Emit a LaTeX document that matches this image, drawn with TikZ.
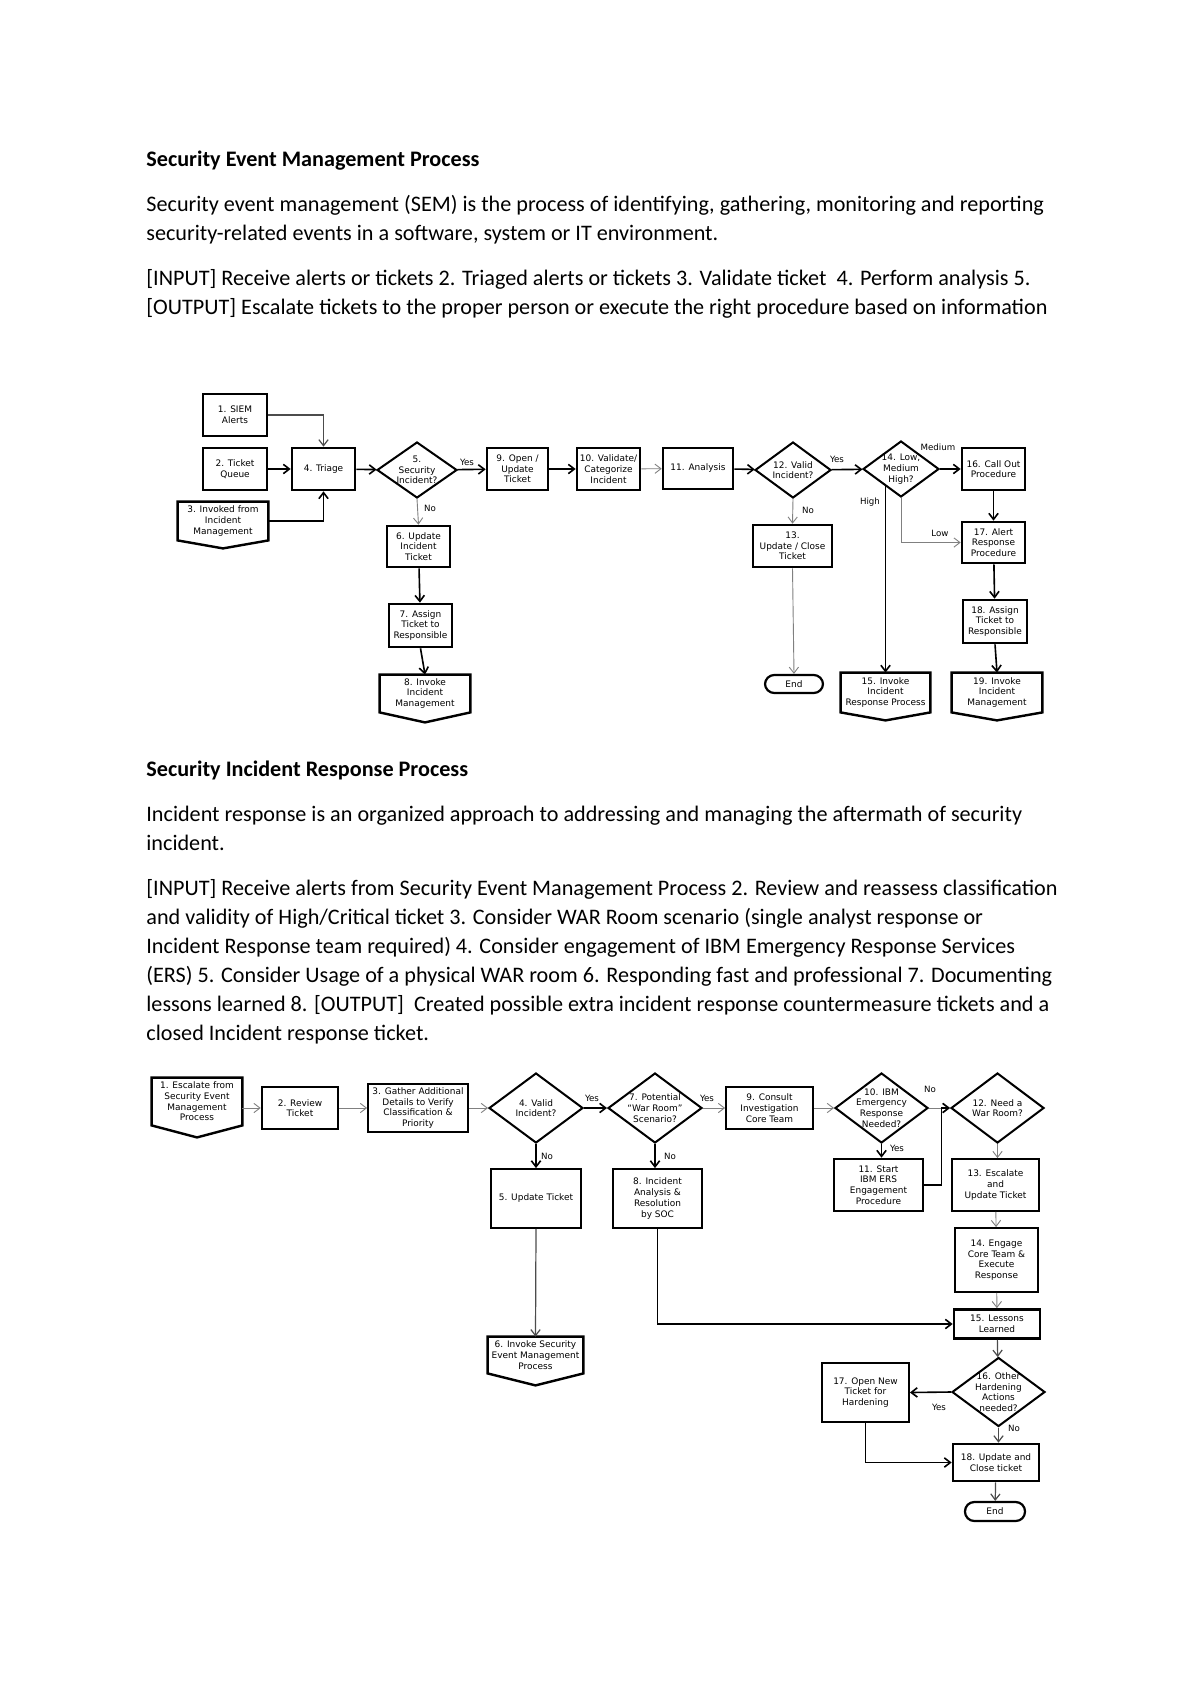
\documentclass[tikz,border=0pt]{standalone}
\usepackage{fontspec}
\setmainfont{Carlito}
\newfontfamily\dgfont{DejaVu Sans}
\usetikzlibrary{arrows.meta,shapes.geometric,calc}
\newdimen\px \px=0.4961pt
\newcommand\dgsz{\dgfont\fontsize{4.45}{5.3}\selectfont}
\newcommand\lbsz{\dgfont\fontsize{4.3}{4.8}\selectfont}
\newcommand\bodysz{\fontsize{11}{13}\selectfont}
\tikzset{
  sz/.style 2 args={minimum width=#1\px, minimum height=#2\px},
  boxk/.style={draw, rectangle, line width=1.3pt, align=center, inner sep=0pt, font=\dgsz},
  boxm/.style={boxk, line width=0.9pt},
  dia/.style={draw, diamond, line width=1pt, inner sep=0pt},
  dtxt/.style={font=\dgsz, align=center, inner sep=0pt},
  term/.style={draw, rectangle, rounded corners=4.6pt, line width=1.1pt, font=\dgsz, inner sep=0pt},
  offbox/.style={rectangle, align=center, inner sep=0pt, font=\dgsz},
  offline/.style={line width=1.2pt, line join=miter},
  tip/.style={-{Straight Barb[length=3pt,width=4.6pt]}},
  ark/.style={tip, line width=0.8pt},
  arm/.style={tip, line width=0.6pt, draw=black!70},
  arg/.style={tip, line width=0.45pt, draw=black!50},
  lbl/.style={font=\lbsz, inner sep=0pt},
  body/.style={font=\bodysz, anchor=base west, inner sep=0pt},
  head/.style={body, font=\bodysz\bfseries},
}
\newcommand\offpg[6]{%
  \node[offbox, sz={#3}{#4}] (#1) at (#2) {#6};
  \draw[offline] (#1.north west) -- (#1.north east) -- (#1.south east) -- ([yshift=-#5\px]#1.south) -- (#1.south west) -- cycle;}
\begin{document}
\begin{tikzpicture}[x=0.4961pt, y=-0.4961pt]
\fill[white] (0,0) rectangle (1200,1698);
\useasboundingbox (0,0) rectangle (1200,1698);

% ---------------- text part 1 ----------------
\node[head] (t1) at (146,166) {Security Event Management Process};
\node[body] (t2) at (146,211) {Security event management (SEM) is the process of identifying, gathering, monitoring and reporting};
\node[body] (t3) at (146,240) {security-related events in a software, system or IT environment.};
\node[body] (t4) at (146,285) {[INPUT] Receive alerts or tickets 2. Triaged alerts or tickets 3. Validate ticket\ \ 4. Perform analysis 5.};
\node[body] (t5) at (146,314) {[OUTPUT] Escalate tickets to the proper person or execute the right procedure based on information};

% ---------------- diagram 1 ----------------
\node[boxk, sz={64}{42}] (a1) at (235,415) {1. SIEM\\Alerts};
\node[boxk, sz={64}{42}] (a2) at (235,469) {2. Ticket\\Queue};
\offpg{a3}{223,521}{90}{38}{8}{3. Invoked from\\Incident\\Management}
\node[boxk, sz={63}{42}] (a4) at (323.5,469) {4. Triage};
\node[dia, sz={80}{56}, label={[dtxt]center:{5.\\Security\\Incident?}}] (a5) at (417,470) {};
\node[boxk, sz={61}{42}] (a9) at (517.5,469) {9. Open /\\Update\\Ticket};
\node[boxk, sz={63}{42}] (a10) at (608.5,469) {10. Validate/\\Categorize\\Incident};
\node[boxk, sz={70}{41}] (a11) at (698,468.5) {11. Analysis};
\node[dia, sz={76}{56}, label={[dtxt]center:{12. Valid\\Incident?}}] (a12) at (793,470) {};
\node[dia, sz={76}{56}, label={[dtxt]center:{14. Low,\\Medium\\High?}}] (a14) at (901,469) {};
\node[boxk, sz={63}{42}] (a16) at (993.5,469) {16. Call Out\\Procedure};
\node[boxk, sz={79}{42}] (a13) at (792.5,546) {13.\\Update / Close\\Ticket};
\node[boxk, sz={63}{41}] (a17) at (993.5,542.5) {17. Alert\\Response\\Procedure};
\node[boxk, sz={64}{43}] (a18) at (995,621.5) {18. Assign\\Ticket to\\Responsible};
\node[term, sz={58}{18}] (aend) at (794,684) {End};
\offpg{a15}{885.5,692.5}{89}{39}{8}{15. Invoke\\Incident\\Response Process}
\offpg{a19}{997,692.5}{90}{39}{8}{19. Invoke\\Incident\\Management}
\node[boxk, sz={63}{41}] (a6) at (418.5,546.5) {6. Update\\Incident\\Ticket};
\node[boxk, sz={63}{43}] (a7) at (420.5,625.5) {7. Assign\\Ticket to\\Responsible};
\offpg{a8}{425,693.5}{90}{37}{10}{8. Invoke\\Incident\\Management}

\draw[arm] (a1.east) -| (a4.north);
\draw[ark] (a2) -- (a4);
\draw[ark] (a3.east) -| (a4.south);
\draw[ark] (a4) -- (a5);
\draw[ark] (a5) -- (a9);
\draw[ark] (a9) -- (a10);
\draw[arg] (a10) -- (a11);
\draw[ark] (a11) -- (a12);
\draw[ark] (a12) -- (a14);
\draw[ark] (a14) -- (a16);
\draw[arg] (a12.south) -- (a13.north);
\draw[arg] (a13.south) -- (aend.north);
\draw[ark] (a15.north |- a14.south west) -- (a15.north);
\draw[arg] (a14.south) |- (a17.west);
\draw[ark] (a16) -- (a17);
\draw[ark] (a17) -- (a18);
\draw[ark] (a18.south) -- (a19.north);
\draw[arg] (a5.south) -- (a6.north);
\draw[ark] (a6) -- (a7);
\draw[ark] (a7.south) -- (a8.north);

\node[lbl] (la1) at (467,462) {Yes};
\node[lbl] (la2) at (430,508) {No};
\node[lbl] (la3) at (837,459) {Yes};
\node[lbl] (la4) at (808,510) {No};
\node[lbl] (la5) at (938,447) {Medium};
\node[lbl] (la6) at (870,502) {High};
\node[lbl] (la7) at (940,533) {Low};

% ---------------- text part 2 ----------------
\node[head] (s1) at (146,776) {Security Incident Response Process};
\node[body] (s2) at (146,821) {Incident response is an organized approach to addressing and managing the aftermath of security};
\node[body] (s3) at (146,850) {incident.};
\node[body] (s4) at (146,895) {[INPUT] Receive alerts from Security Event Management Process 2. Review and reassess classification};
\node[body] (s5) at (146,924) {and validity of High/Critical ticket 3. Consider WAR Room scenario (single analyst response or};
\node[body] (s6) at (146,953) {Incident Response team required) 4. Consider engagement of IBM Emergency Response Services};
\node[body] (s7) at (146,982) {(ERS) 5. Consider Usage of a physical WAR room 6. Responding fast and professional 7. Documenting};
\node[body] (s8) at (146,1011) {lessons learned 8. [OUTPUT]\ \ Created possible extra incident response countermeasure tickets and a};
\node[body] (s9) at (146,1040) {closed Incident response ticket.};

% ---------------- diagram 2 ----------------
\offpg{b1}{197,1101.5}{90}{47}{12}{1. Escalate from\\Security Event\\Management\\Process}
\node[boxk, sz={76}{42}] (b2) at (300,1108) {2. Review\\Ticket};
\node[boxm, sz={100}{48}] (b3) at (418,1108) {3. Gather Additional\\Details to Verify\\Classification \&\\Priority};
\node[dia, sz={94}{70}, label={[dtxt]center:{4. Valid\\Incident?}}] (b4) at (536,1108) {};
\node[boxm, sz={90}{59}] (b5) at (536,1198.5) {5. Update Ticket};
\offpg{b6}{535.5,1355}{95}{36}{12}{6. Invoke Security\\Event Management\\Process}
\node[dia, sz={94}{70}, label={[dtxt]center:{7. Potential\\“War Room”\\Scenario?}}] (b7) at (655,1108) {};
\node[boxm, sz={89}{59}] (b8) at (657.5,1198.5) {8. Incident\\Analysis \&\\Resolution\\by SOC};
\node[boxm, sz={87}{42}] (b9) at (769.5,1108) {9. Consult\\Investigation\\Core Team};
\node[dia, sz={93}{70}, label={[dtxt]center:{10. IBM\\Emergency\\Response\\Needed?}}] (b10) at (881.5,1108) {};
\node[boxk, sz={89}{52}] (b11) at (878.5,1185) {11. Start\\IBM ERS\\Engagement\\Procedure};
\node[dia, sz={93}{70}, label={[dtxt]center:{12. Need a\\War Room?}}] (b12) at (997.5,1108) {};
\node[boxm, sz={87}{52}] (b13) at (995.5,1185) {13. Escalate\\and\\Update Ticket};
\node[boxm, sz={83}{64}] (b14) at (996.5,1260) {14. Engage\\Core Team \&\\Execute\\Response};
\node[boxk, sz={86}{29}] (b15) at (997,1324) {15. Lessons\\Learned};
\node[dia, sz={93}{69}, label={[dtxt]center:{16. Other\\Hardening\\Actions\\needed?}}] (b16) at (998.5,1392) {};
\node[boxm, sz={87}{59}] (b17) at (865.5,1392.5) {17. Open New\\Ticket for\\Hardening};
\node[boxk, sz={86}{37}] (b18) at (996,1462.5) {18. Update and\\Close ticket};
\node[term, sz={60}{19}] (bend) at (995,1511.5) {End};

\draw[arg] (b1.east |- b2.west) -- (b2.west);
\draw[arg] (b2) -- (b3);
\draw[arg] (b3) -- (b4);
\draw[ark] (b4) -- (b7);
\draw[ark] (b4.south) -- (b5.north);
\draw[arm] (b5.south) -- (b6.north);
\draw[arg] (b7) -- (b9);
\draw[ark] (b7.south) -- (b7.south |- b8.north);
\draw[arg] (b9) -- (b10);
\draw[arg] (b10) -- (b12);
\draw[ark] (b10.south) -- (b10.south |- b11.north);
\draw[ark] (b11.east) -- ++(17,0) |- (b12.west);
\draw[arg] (b12.south) -- (b12.south |- b13.north);
\draw[arg] (b13) -- (b14);
\draw[arg] (b14) -- (b15);
\draw[ark] (b8.south) |- (b15.west);
\draw[arm] (b15) -- (b16);
\draw[ark] (b16.west) -- (b17.east);
\draw[arm] (b16.south) -- (b16.south |- b18.north);
\draw[ark] (b17.south) |- (b18.west);
\draw[arm] (b18) -- (bend);

\node[lbl] (lb1) at (592,1098) {Yes};
\node[lbl] (lb2) at (547,1156) {No};
\node[lbl] (lb3) at (707,1098) {Yes};
\node[lbl] (lb4) at (670,1156) {No};
\node[lbl] (lb5) at (930,1089) {No};
\node[lbl] (lb6) at (897,1148) {Yes};
\node[lbl] (lb7) at (939,1407) {Yes};
\node[lbl] (lb8) at (1014,1428) {No};
\end{tikzpicture}
\end{document}
